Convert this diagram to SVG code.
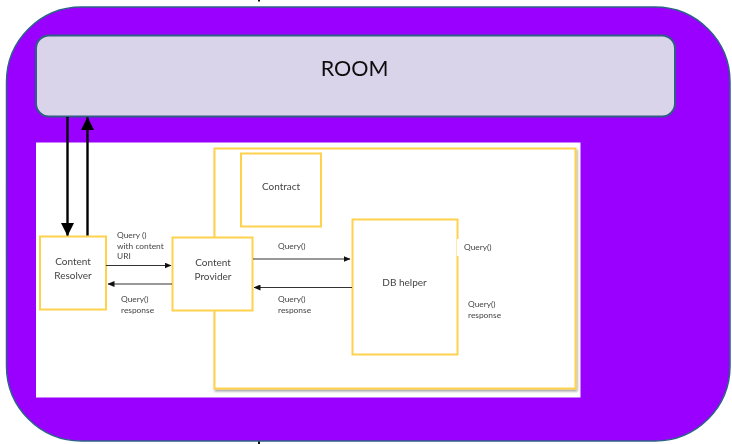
<svg xmlns="http://www.w3.org/2000/svg" width="732" height="444" viewBox="0 0 732 444">
<style>
text{font-family:Lato,"Open Sans","Liberation Sans",sans-serif;fill:#444;filter:url(#soft)}
.y{fill:#fff;stroke:#ffd24d;stroke-width:2}
.s{font-size:8.400px}
.m{font-size:10px;text-anchor:middle}
.thin{stroke:#333;stroke-width:1;fill:none}
.thick{stroke:#000;stroke-width:2.400;fill:none}
</style>
<defs>
<filter id="soft" x="-5%" y="-20%" width="110%" height="140%"><feGaussianBlur stdDeviation="0.3"/></filter>
<marker id="a" markerUnits="userSpaceOnUse" markerWidth="7" markerHeight="6" refX="6.500" refY="3" orient="auto"><path d="M0 0L7 3L0 6Z" fill="#111"/></marker>
<marker id="b" markerUnits="userSpaceOnUse" markerWidth="13" markerHeight="13" refX="12.500" refY="6.500" orient="auto"><path d="M0 0L13 6.500L0 13Z" fill="#000"/></marker>
<filter id="sh" x="-5%" y="-5%" width="110%" height="110%"><feDropShadow dx="1" dy="2" stdDeviation="1.200" flood-color="#000" flood-opacity=".35"/></filter>
</defs>
<rect width="732" height="444" fill="#fff"/>
<g id="marks"><path d="M259 0V1.500M259 441V444" stroke="#111" stroke-width="2"/></g>
<g id="outer"><rect x="6.500" y="7" width="723.500" height="434" rx="75" ry="75" fill="#9900ff" stroke="#2c6188" stroke-width="1.500"/></g>
<g id="room"><rect x="36" y="35.500" width="639" height="81" rx="13" fill="#dad4ea" stroke="#2f5f85" stroke-width="2"/><text x="354.500" y="75.500" font-size="21.500" text-anchor="middle" style="fill:#111">ROOM</text></g>
<rect id="panel" x="36" y="142.500" width="544.500" height="255" fill="#fff"/>
<g id="provider-box"><rect class="y" x="214.500" y="148.500" width="361" height="240" filter="url(#sh)"/></g>
<g id="contract"><rect class="y" x="241" y="153.500" width="80" height="73"/><text class="m" x="281" y="189.500">Contract</text></g>
<g id="db-helper"><rect class="y" x="352.500" y="219.500" width="105" height="135"/><rect x="457" y="239" width="2" height="17" fill="#fff"/><text class="m" x="404.500" y="286">DB helper</text></g>
<g id="content-resolver"><rect class="y" x="40" y="236.500" width="66" height="73"/><text class="m" x="73" y="265">Content</text><text class="m" x="73" y="278.500">Resolver</text></g>
<g id="content-provider"><rect class="y" x="172.500" y="237.500" width="80" height="73"/><text class="m" x="213" y="266">Content</text><text class="m" x="213" y="279.500">Provider</text></g>
<g id="connectors">
<path class="thick" marker-end="url(#b)" d="M67.500 117V235.500"/>
<path class="thick" marker-end="url(#b)" d="M87.500 235.500V117.500"/>
<path class="thin" marker-end="url(#a)" d="M106 265.500H171"/>
<path class="thin" marker-end="url(#a)" d="M172 284H108"/>
<path class="thin" marker-end="url(#a)" d="M253 259H350"/>
<path class="thin" marker-end="url(#a)" d="M352 287.500H254"/>
</g>
<g id="labels">
<text class="s" x="117" y="238">Query ()</text>
<text class="s" x="117" y="249">with content</text>
<text class="s" x="117" y="258.500">URI</text>
<text class="s" x="121" y="302">Query()</text>
<text class="s" x="121" y="313">response</text>
<text class="s" x="278" y="249">Query()</text>
<text class="s" x="278" y="302">Query()</text>
<text class="s" x="278" y="313">response</text>
<text class="s" x="464" y="250">Query()</text>
<text class="s" x="468" y="307">Query()</text>
<text class="s" x="468" y="318">response</text>
</g>
</svg>
